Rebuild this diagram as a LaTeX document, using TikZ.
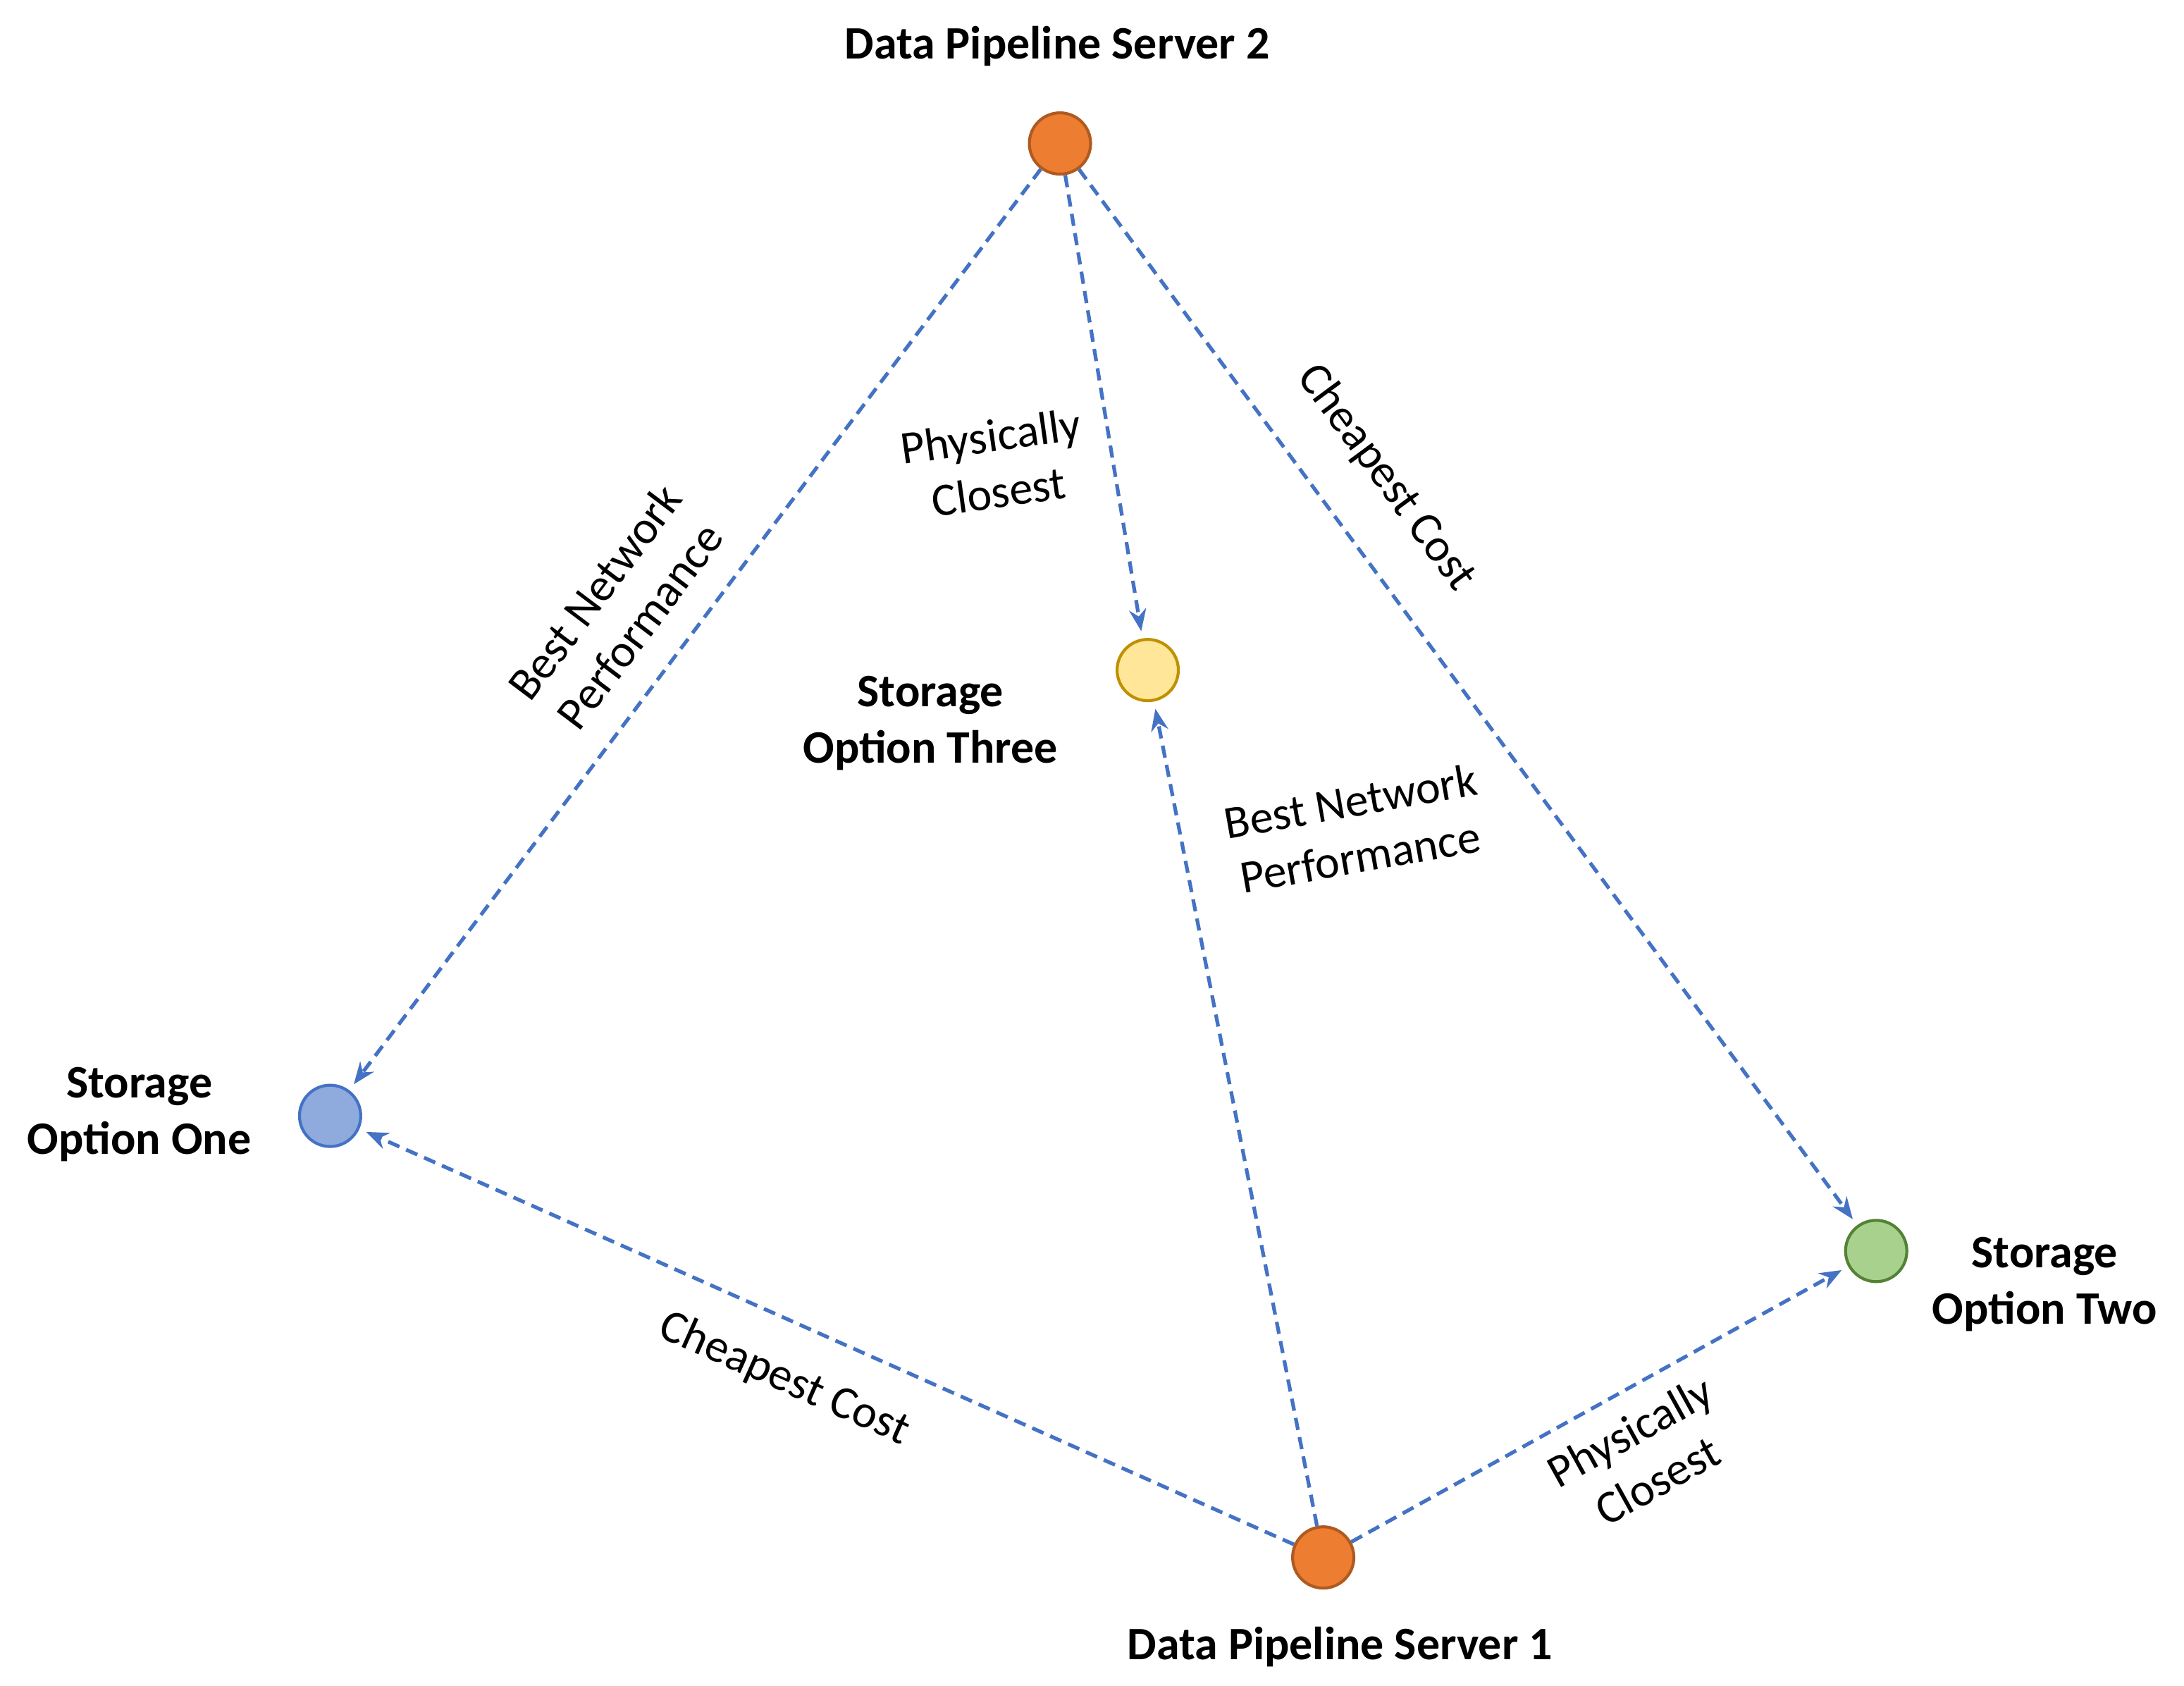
\documentclass[tikz,border=0pt]{standalone}
\usepackage{fontspec}
\setmainfont{Carlito}
\usetikzlibrary{arrows.meta}
\begin{document}
\begin{tikzpicture}[x=0.02cm,y=-0.02cm,
  dot/.style={circle,draw,line width=1.2pt,minimum size=0.88cm,inner sep=0},
  arr/.style={draw={rgb,255:red,68;green,114;blue,196},line width=1.5pt,dash pattern=on 5pt off 3pt,-{Stealth[length=9pt,width=7pt]},shorten >=3pt},
  bl/.style={font=\fontsize{19}{23}\selectfont\bfseries,align=center},
  el/.style={font=\fontsize{19}{23}\selectfont,align=center}]
\useasboundingbox (0,0) rectangle (1568,1210);
\node[dot,fill={rgb,255:red,237;green,125;blue,49},draw={rgb,255:red,174;green,90;blue,33}] (s2) at (761,103) {};
\node[dot,fill={rgb,255:red,237;green,125;blue,49},draw={rgb,255:red,174;green,90;blue,33}] (s1) at (950,1118) {};
\node[dot,fill={rgb,255:red,255;green,230;blue,153},draw={rgb,255:red,191;green,144;blue,0}] (o3) at (824,481) {};
\node[dot,fill={rgb,255:red,143;green,170;blue,220},draw={rgb,255:red,68;green,114;blue,196}] (o1) at (237,801) {};
\node[dot,fill={rgb,255:red,169;green,209;blue,142},draw={rgb,255:red,84;green,130;blue,53}] (o2) at (1347,898) {};
\node[bl] (t2) at (759,33) {Data Pipeline Server 2};
\node[bl] (t1) at (962,1182) {Data Pipeline Server 1};
\node[bl] (t3) at (668,519) {Storage\\Option Three};
\node[bl] (tO1) at (100,800) {Storage\\Option One};
\node[bl] (tO2) at (1468,922) {Storage\\Option Two};
\draw[arr] (s2) -- (o1);
\draw[arr] (s2) -- (o3);
\draw[arr] (s2) -- (o2);
\draw[arr] (s1) -- (o1);
\draw[arr] (s1) -- (o3);
\draw[arr] (s1) -- (o2);
\node[el,rotate=53] (l1) at (443,437) {Best Network\\Performance};
\node[el,rotate=8] (l2) at (714,333) {Physically\\Closest};
\node[el,rotate=-53.6] (l3) at (995,343) {Cheapest Cost};
\node[el,rotate=10] (l4) at (973,595) {Best Network\\Performance};
\node[el,rotate=-24] (l5) at (563,990) {Cheapest Cost};
\node[el,rotate=29] (l6) at (1180,1045) {Physically\\Closest};
\end{tikzpicture}
\end{document}
